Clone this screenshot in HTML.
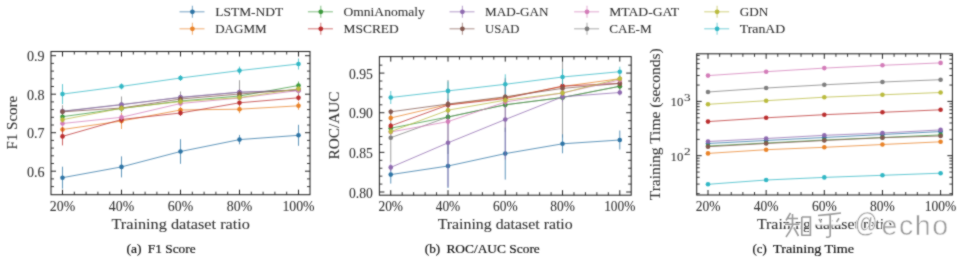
<!DOCTYPE html>
<html><head><meta charset="utf-8"><style>
html,body{margin:0;padding:0;background:#fff;}
body{width:970px;height:264px;overflow:hidden;}
svg{display:block;font-family:'Liberation Serif',serif;}
#w{width:970px;height:264px;filter:saturate(0.8);}
</style></head><body><div id="w">
<svg width="970" height="264" viewBox="0 0 970 264">
<defs><filter id="bl" color-interpolation-filters="sRGB" x="0" y="0" width="970" height="264" filterUnits="userSpaceOnUse"><feConvolveMatrix order="3" kernelMatrix="1 2 1 2 12 2 1 2 1" divisor="24" edgeMode="duplicate"/></filter></defs>
<g filter="url(#bl)"><rect width="970" height="264" fill="#fff"/>
<line x1="179.5" y1="11.8" x2="204.5" y2="11.8" stroke="#1f77b4" stroke-width="1.1" opacity="0.6"/>
<line x1="192.4" y1="5.800000000000001" x2="192.4" y2="17.8" stroke="#1f77b4" stroke-width="1.1" opacity="0.6"/>
<circle cx="192.4" cy="11.8" r="2.4" fill="#1f77b4"/>
<text x="215.20" y="15.90" font-size="12.40" text-anchor="start" fill="#333" stroke="#333" stroke-width="0.08" textLength="68.10" lengthAdjust="spacingAndGlyphs" >LSTM-NDT</text>
<line x1="179.5" y1="28.8" x2="204.5" y2="28.8" stroke="#ff7f0e" stroke-width="1.1" opacity="0.6"/>
<line x1="192.4" y1="22.8" x2="192.4" y2="34.8" stroke="#ff7f0e" stroke-width="1.1" opacity="0.6"/>
<circle cx="192.4" cy="28.8" r="2.4" fill="#ff7f0e"/>
<text x="215.20" y="32.90" font-size="12.40" text-anchor="start" fill="#333" stroke="#333" stroke-width="0.08" textLength="51.50" lengthAdjust="spacingAndGlyphs" >DAGMM</text>
<line x1="307.9" y1="11.8" x2="332.9" y2="11.8" stroke="#2ca02c" stroke-width="1.1" opacity="0.6"/>
<line x1="320.79999999999995" y1="5.800000000000001" x2="320.79999999999995" y2="17.8" stroke="#2ca02c" stroke-width="1.1" opacity="0.6"/>
<circle cx="320.79999999999995" cy="11.8" r="2.4" fill="#2ca02c"/>
<text x="343.50" y="15.90" font-size="12.40" text-anchor="start" fill="#333" stroke="#333" stroke-width="0.08" textLength="81.30" lengthAdjust="spacingAndGlyphs" >OmniAnomaly</text>
<line x1="307.9" y1="28.8" x2="332.9" y2="28.8" stroke="#d62728" stroke-width="1.1" opacity="0.6"/>
<line x1="320.79999999999995" y1="22.8" x2="320.79999999999995" y2="34.8" stroke="#d62728" stroke-width="1.1" opacity="0.6"/>
<circle cx="320.79999999999995" cy="28.8" r="2.4" fill="#d62728"/>
<text x="343.50" y="32.90" font-size="12.40" text-anchor="start" fill="#333" stroke="#333" stroke-width="0.08" textLength="55.30" lengthAdjust="spacingAndGlyphs" >MSCRED</text>
<line x1="449.5" y1="11.8" x2="474.5" y2="11.8" stroke="#9467bd" stroke-width="1.1" opacity="0.6"/>
<line x1="462.4" y1="5.800000000000001" x2="462.4" y2="17.8" stroke="#9467bd" stroke-width="1.1" opacity="0.6"/>
<circle cx="462.4" cy="11.8" r="2.4" fill="#9467bd"/>
<text x="485.00" y="15.90" font-size="12.40" text-anchor="start" fill="#333" stroke="#333" stroke-width="0.08" textLength="63.60" lengthAdjust="spacingAndGlyphs" >MAD-GAN</text>
<line x1="449.5" y1="28.8" x2="474.5" y2="28.8" stroke="#8c564b" stroke-width="1.1" opacity="0.6"/>
<line x1="462.4" y1="22.8" x2="462.4" y2="34.8" stroke="#8c564b" stroke-width="1.1" opacity="0.6"/>
<circle cx="462.4" cy="28.8" r="2.4" fill="#8c564b"/>
<text x="485.00" y="32.90" font-size="12.40" text-anchor="start" fill="#333" stroke="#333" stroke-width="0.08" textLength="34.50" lengthAdjust="spacingAndGlyphs" >USAD</text>
<line x1="574.1" y1="11.8" x2="599.1" y2="11.8" stroke="#e377c2" stroke-width="1.1" opacity="0.6"/>
<line x1="587.0" y1="5.800000000000001" x2="587.0" y2="17.8" stroke="#e377c2" stroke-width="1.1" opacity="0.6"/>
<circle cx="587.0" cy="11.8" r="2.4" fill="#e377c2"/>
<text x="609.20" y="15.90" font-size="12.40" text-anchor="start" fill="#333" stroke="#333" stroke-width="0.08" textLength="70.00" lengthAdjust="spacingAndGlyphs" >MTAD-GAT</text>
<line x1="574.1" y1="28.8" x2="599.1" y2="28.8" stroke="#7f7f7f" stroke-width="1.1" opacity="0.6"/>
<line x1="587.0" y1="22.8" x2="587.0" y2="34.8" stroke="#7f7f7f" stroke-width="1.1" opacity="0.6"/>
<circle cx="587.0" cy="28.8" r="2.4" fill="#7f7f7f"/>
<text x="609.20" y="32.90" font-size="12.40" text-anchor="start" fill="#333" stroke="#333" stroke-width="0.08" textLength="42.50" lengthAdjust="spacingAndGlyphs" >CAE-M</text>
<line x1="704.2" y1="11.8" x2="729.2" y2="11.8" stroke="#bcbd22" stroke-width="1.1" opacity="0.6"/>
<line x1="717.1" y1="5.800000000000001" x2="717.1" y2="17.8" stroke="#bcbd22" stroke-width="1.1" opacity="0.6"/>
<circle cx="717.1" cy="11.8" r="2.4" fill="#bcbd22"/>
<text x="739.80" y="15.90" font-size="12.40" text-anchor="start" fill="#333" stroke="#333" stroke-width="0.08" textLength="28.50" lengthAdjust="spacingAndGlyphs" >GDN</text>
<line x1="704.2" y1="28.8" x2="729.2" y2="28.8" stroke="#17becf" stroke-width="1.1" opacity="0.6"/>
<line x1="717.1" y1="22.8" x2="717.1" y2="34.8" stroke="#17becf" stroke-width="1.1" opacity="0.6"/>
<circle cx="717.1" cy="28.8" r="2.4" fill="#17becf"/>
<text x="739.80" y="32.90" font-size="12.40" text-anchor="start" fill="#333" stroke="#333" stroke-width="0.08" textLength="45.50" lengthAdjust="spacingAndGlyphs" >TranAD</text>
<g>
<polyline points="62.50,111.20 121.50,104.50 180.50,97.50 239.50,92.20 298.50,90.50" fill="none" stroke="#7f7f7f" stroke-width="0.95" opacity="0.8"/>
<line x1="62.50" y1="105.20" x2="62.50" y2="117.20" stroke="#7f7f7f" stroke-width="0.95" opacity="0.8"/>
<line x1="121.50" y1="96.50" x2="121.50" y2="112.50" stroke="#7f7f7f" stroke-width="0.95" opacity="0.8"/>
<line x1="180.50" y1="91.50" x2="180.50" y2="103.50" stroke="#7f7f7f" stroke-width="0.95" opacity="0.8"/>
<line x1="239.50" y1="80.20" x2="239.50" y2="104.20" stroke="#7f7f7f" stroke-width="0.95" opacity="0.8"/>
<line x1="298.50" y1="85.50" x2="298.50" y2="95.50" stroke="#7f7f7f" stroke-width="0.95" opacity="0.8"/>
<circle cx="62.50" cy="111.20" r="2.3" fill="#7f7f7f"/>
<circle cx="121.50" cy="104.50" r="2.3" fill="#7f7f7f"/>
<circle cx="180.50" cy="97.50" r="2.3" fill="#7f7f7f"/>
<circle cx="239.50" cy="92.20" r="2.3" fill="#7f7f7f"/>
<circle cx="298.50" cy="90.50" r="2.3" fill="#7f7f7f"/>
<polyline points="62.50,177.70 121.50,166.90 180.50,151.50 239.50,139.60 298.50,135.30" fill="none" stroke="#1f77b4" stroke-width="0.95" opacity="0.8"/>
<line x1="62.50" y1="166.70" x2="62.50" y2="188.70" stroke="#1f77b4" stroke-width="0.95" opacity="0.8"/>
<line x1="121.50" y1="156.40" x2="121.50" y2="177.40" stroke="#1f77b4" stroke-width="0.95" opacity="0.8"/>
<line x1="180.50" y1="139.20" x2="180.50" y2="163.80" stroke="#1f77b4" stroke-width="0.95" opacity="0.8"/>
<line x1="239.50" y1="134.90" x2="239.50" y2="144.30" stroke="#1f77b4" stroke-width="0.95" opacity="0.8"/>
<line x1="298.50" y1="124.80" x2="298.50" y2="145.80" stroke="#1f77b4" stroke-width="0.95" opacity="0.8"/>
<circle cx="62.50" cy="177.70" r="2.3" fill="#1f77b4"/>
<circle cx="121.50" cy="166.90" r="2.3" fill="#1f77b4"/>
<circle cx="180.50" cy="151.50" r="2.3" fill="#1f77b4"/>
<circle cx="239.50" cy="139.60" r="2.3" fill="#1f77b4"/>
<circle cx="298.50" cy="135.30" r="2.3" fill="#1f77b4"/>
<polyline points="62.50,129.50 121.50,121.00 180.50,110.00 239.50,109.20 298.50,105.80" fill="none" stroke="#ff7f0e" stroke-width="0.95" opacity="0.8"/>
<line x1="62.50" y1="126.50" x2="62.50" y2="132.50" stroke="#ff7f0e" stroke-width="0.95" opacity="0.8"/>
<line x1="121.50" y1="113.00" x2="121.50" y2="129.00" stroke="#ff7f0e" stroke-width="0.95" opacity="0.8"/>
<line x1="180.50" y1="107.00" x2="180.50" y2="113.00" stroke="#ff7f0e" stroke-width="0.95" opacity="0.8"/>
<line x1="239.50" y1="105.20" x2="239.50" y2="113.20" stroke="#ff7f0e" stroke-width="0.95" opacity="0.8"/>
<line x1="298.50" y1="101.80" x2="298.50" y2="109.80" stroke="#ff7f0e" stroke-width="0.95" opacity="0.8"/>
<circle cx="62.50" cy="129.50" r="2.3" fill="#ff7f0e"/>
<circle cx="121.50" cy="121.00" r="2.3" fill="#ff7f0e"/>
<circle cx="180.50" cy="110.00" r="2.3" fill="#ff7f0e"/>
<circle cx="239.50" cy="109.20" r="2.3" fill="#ff7f0e"/>
<circle cx="298.50" cy="105.80" r="2.3" fill="#ff7f0e"/>
<polyline points="62.50,116.70 121.50,108.50 180.50,101.00 239.50,96.00 298.50,85.50" fill="none" stroke="#2ca02c" stroke-width="0.95" opacity="0.8"/>
<line x1="62.50" y1="113.70" x2="62.50" y2="119.70" stroke="#2ca02c" stroke-width="0.95" opacity="0.8"/>
<line x1="121.50" y1="105.50" x2="121.50" y2="111.50" stroke="#2ca02c" stroke-width="0.95" opacity="0.8"/>
<line x1="180.50" y1="98.00" x2="180.50" y2="104.00" stroke="#2ca02c" stroke-width="0.95" opacity="0.8"/>
<line x1="239.50" y1="93.00" x2="239.50" y2="99.00" stroke="#2ca02c" stroke-width="0.95" opacity="0.8"/>
<line x1="298.50" y1="81.50" x2="298.50" y2="89.50" stroke="#2ca02c" stroke-width="0.95" opacity="0.8"/>
<circle cx="62.50" cy="116.70" r="2.3" fill="#2ca02c"/>
<circle cx="121.50" cy="108.50" r="2.3" fill="#2ca02c"/>
<circle cx="180.50" cy="101.00" r="2.3" fill="#2ca02c"/>
<circle cx="239.50" cy="96.00" r="2.3" fill="#2ca02c"/>
<circle cx="298.50" cy="85.50" r="2.3" fill="#2ca02c"/>
<polyline points="62.50,136.40 121.50,119.50 180.50,113.00 239.50,102.80 298.50,97.80" fill="none" stroke="#d62728" stroke-width="0.95" opacity="0.8"/>
<line x1="62.50" y1="127.40" x2="62.50" y2="145.40" stroke="#d62728" stroke-width="0.95" opacity="0.8"/>
<line x1="121.50" y1="115.50" x2="121.50" y2="123.50" stroke="#d62728" stroke-width="0.95" opacity="0.8"/>
<line x1="180.50" y1="110.00" x2="180.50" y2="116.00" stroke="#d62728" stroke-width="0.95" opacity="0.8"/>
<line x1="239.50" y1="99.80" x2="239.50" y2="105.80" stroke="#d62728" stroke-width="0.95" opacity="0.8"/>
<line x1="298.50" y1="94.80" x2="298.50" y2="100.80" stroke="#d62728" stroke-width="0.95" opacity="0.8"/>
<circle cx="62.50" cy="136.40" r="2.3" fill="#d62728"/>
<circle cx="121.50" cy="119.50" r="2.3" fill="#d62728"/>
<circle cx="180.50" cy="113.00" r="2.3" fill="#d62728"/>
<circle cx="239.50" cy="102.80" r="2.3" fill="#d62728"/>
<circle cx="298.50" cy="97.80" r="2.3" fill="#d62728"/>
<polyline points="62.50,111.40 121.50,104.80 180.50,97.30 239.50,92.20 298.50,90.00" fill="none" stroke="#9467bd" stroke-width="0.95" opacity="0.8"/>
<line x1="62.50" y1="108.40" x2="62.50" y2="114.40" stroke="#9467bd" stroke-width="0.95" opacity="0.8"/>
<line x1="121.50" y1="101.80" x2="121.50" y2="107.80" stroke="#9467bd" stroke-width="0.95" opacity="0.8"/>
<line x1="180.50" y1="94.30" x2="180.50" y2="100.30" stroke="#9467bd" stroke-width="0.95" opacity="0.8"/>
<line x1="239.50" y1="89.20" x2="239.50" y2="95.20" stroke="#9467bd" stroke-width="0.95" opacity="0.8"/>
<line x1="298.50" y1="87.00" x2="298.50" y2="93.00" stroke="#9467bd" stroke-width="0.95" opacity="0.8"/>
<circle cx="62.50" cy="111.40" r="2.3" fill="#9467bd"/>
<circle cx="121.50" cy="104.80" r="2.3" fill="#9467bd"/>
<circle cx="180.50" cy="97.30" r="2.3" fill="#9467bd"/>
<circle cx="239.50" cy="92.20" r="2.3" fill="#9467bd"/>
<circle cx="298.50" cy="90.00" r="2.3" fill="#9467bd"/>
<polyline points="62.50,111.80 121.50,108.00 180.50,99.00 239.50,94.00 298.50,89.50" fill="none" stroke="#8c564b" stroke-width="0.95" opacity="0.8"/>
<line x1="62.50" y1="108.80" x2="62.50" y2="114.80" stroke="#8c564b" stroke-width="0.95" opacity="0.8"/>
<line x1="121.50" y1="105.00" x2="121.50" y2="111.00" stroke="#8c564b" stroke-width="0.95" opacity="0.8"/>
<line x1="180.50" y1="96.00" x2="180.50" y2="102.00" stroke="#8c564b" stroke-width="0.95" opacity="0.8"/>
<line x1="239.50" y1="91.00" x2="239.50" y2="97.00" stroke="#8c564b" stroke-width="0.95" opacity="0.8"/>
<line x1="298.50" y1="86.50" x2="298.50" y2="92.50" stroke="#8c564b" stroke-width="0.95" opacity="0.8"/>
<circle cx="62.50" cy="111.80" r="2.3" fill="#8c564b"/>
<circle cx="121.50" cy="108.00" r="2.3" fill="#8c564b"/>
<circle cx="180.50" cy="99.00" r="2.3" fill="#8c564b"/>
<circle cx="239.50" cy="94.00" r="2.3" fill="#8c564b"/>
<circle cx="298.50" cy="89.50" r="2.3" fill="#8c564b"/>
<polyline points="62.50,123.50 121.50,117.30 180.50,103.50 239.50,98.00 298.50,90.50" fill="none" stroke="#e377c2" stroke-width="0.95" opacity="0.8"/>
<line x1="62.50" y1="120.50" x2="62.50" y2="126.50" stroke="#e377c2" stroke-width="0.95" opacity="0.8"/>
<line x1="121.50" y1="114.30" x2="121.50" y2="120.30" stroke="#e377c2" stroke-width="0.95" opacity="0.8"/>
<line x1="180.50" y1="100.50" x2="180.50" y2="106.50" stroke="#e377c2" stroke-width="0.95" opacity="0.8"/>
<line x1="239.50" y1="95.00" x2="239.50" y2="101.00" stroke="#e377c2" stroke-width="0.95" opacity="0.8"/>
<line x1="298.50" y1="87.50" x2="298.50" y2="93.50" stroke="#e377c2" stroke-width="0.95" opacity="0.8"/>
<circle cx="62.50" cy="123.50" r="2.3" fill="#e377c2"/>
<circle cx="121.50" cy="117.30" r="2.3" fill="#e377c2"/>
<circle cx="180.50" cy="103.50" r="2.3" fill="#e377c2"/>
<circle cx="239.50" cy="98.00" r="2.3" fill="#e377c2"/>
<circle cx="298.50" cy="90.50" r="2.3" fill="#e377c2"/>
<polyline points="62.50,119.70 121.50,108.20 180.50,101.60 239.50,97.60 298.50,88.80" fill="none" stroke="#bcbd22" stroke-width="0.95" opacity="0.8"/>
<line x1="62.50" y1="116.70" x2="62.50" y2="122.70" stroke="#bcbd22" stroke-width="0.95" opacity="0.8"/>
<line x1="121.50" y1="105.20" x2="121.50" y2="111.20" stroke="#bcbd22" stroke-width="0.95" opacity="0.8"/>
<line x1="180.50" y1="98.60" x2="180.50" y2="104.60" stroke="#bcbd22" stroke-width="0.95" opacity="0.8"/>
<line x1="239.50" y1="94.60" x2="239.50" y2="100.60" stroke="#bcbd22" stroke-width="0.95" opacity="0.8"/>
<line x1="298.50" y1="85.80" x2="298.50" y2="91.80" stroke="#bcbd22" stroke-width="0.95" opacity="0.8"/>
<circle cx="62.50" cy="119.70" r="2.3" fill="#bcbd22"/>
<circle cx="121.50" cy="108.20" r="2.3" fill="#bcbd22"/>
<circle cx="180.50" cy="101.60" r="2.3" fill="#bcbd22"/>
<circle cx="239.50" cy="97.60" r="2.3" fill="#bcbd22"/>
<circle cx="298.50" cy="88.80" r="2.3" fill="#bcbd22"/>
<polyline points="62.50,94.10 121.50,86.40 180.50,78.00 239.50,70.60 298.50,64.00" fill="none" stroke="#17becf" stroke-width="0.95" opacity="0.8"/>
<line x1="62.50" y1="84.10" x2="62.50" y2="104.10" stroke="#17becf" stroke-width="0.95" opacity="0.8"/>
<line x1="121.50" y1="83.40" x2="121.50" y2="89.40" stroke="#17becf" stroke-width="0.95" opacity="0.8"/>
<line x1="180.50" y1="75.00" x2="180.50" y2="81.00" stroke="#17becf" stroke-width="0.95" opacity="0.8"/>
<line x1="239.50" y1="66.60" x2="239.50" y2="74.60" stroke="#17becf" stroke-width="0.95" opacity="0.8"/>
<line x1="298.50" y1="58.50" x2="298.50" y2="69.50" stroke="#17becf" stroke-width="0.95" opacity="0.8"/>
<circle cx="62.50" cy="94.10" r="2.3" fill="#17becf"/>
<circle cx="121.50" cy="86.40" r="2.3" fill="#17becf"/>
<circle cx="180.50" cy="78.00" r="2.3" fill="#17becf"/>
<circle cx="239.50" cy="70.60" r="2.3" fill="#17becf"/>
<circle cx="298.50" cy="64.00" r="2.3" fill="#17becf"/>
</g>
<rect x="51" y="51.5" width="259" height="143.2" fill="none" stroke="#222" stroke-width="1.05"/>
<line x1="62.50" y1="194.7" x2="62.50" y2="189.7" stroke="#222" stroke-width="1"/>
<line x1="62.50" y1="51.5" x2="62.50" y2="56.5" stroke="#222" stroke-width="1"/>
<line x1="121.50" y1="194.7" x2="121.50" y2="189.7" stroke="#222" stroke-width="1"/>
<line x1="121.50" y1="51.5" x2="121.50" y2="56.5" stroke="#222" stroke-width="1"/>
<line x1="180.50" y1="194.7" x2="180.50" y2="189.7" stroke="#222" stroke-width="1"/>
<line x1="180.50" y1="51.5" x2="180.50" y2="56.5" stroke="#222" stroke-width="1"/>
<line x1="239.50" y1="194.7" x2="239.50" y2="189.7" stroke="#222" stroke-width="1"/>
<line x1="239.50" y1="51.5" x2="239.50" y2="56.5" stroke="#222" stroke-width="1"/>
<line x1="298.50" y1="194.7" x2="298.50" y2="189.7" stroke="#222" stroke-width="1"/>
<line x1="298.50" y1="51.5" x2="298.50" y2="56.5" stroke="#222" stroke-width="1"/>
<line x1="74.30" y1="194.7" x2="74.30" y2="191.7" stroke="#222" stroke-width="0.9"/>
<line x1="74.30" y1="51.5" x2="74.30" y2="54.5" stroke="#222" stroke-width="0.9"/>
<line x1="86.10" y1="194.7" x2="86.10" y2="191.7" stroke="#222" stroke-width="0.9"/>
<line x1="86.10" y1="51.5" x2="86.10" y2="54.5" stroke="#222" stroke-width="0.9"/>
<line x1="97.90" y1="194.7" x2="97.90" y2="191.7" stroke="#222" stroke-width="0.9"/>
<line x1="97.90" y1="51.5" x2="97.90" y2="54.5" stroke="#222" stroke-width="0.9"/>
<line x1="109.70" y1="194.7" x2="109.70" y2="191.7" stroke="#222" stroke-width="0.9"/>
<line x1="109.70" y1="51.5" x2="109.70" y2="54.5" stroke="#222" stroke-width="0.9"/>
<line x1="133.30" y1="194.7" x2="133.30" y2="191.7" stroke="#222" stroke-width="0.9"/>
<line x1="133.30" y1="51.5" x2="133.30" y2="54.5" stroke="#222" stroke-width="0.9"/>
<line x1="145.10" y1="194.7" x2="145.10" y2="191.7" stroke="#222" stroke-width="0.9"/>
<line x1="145.10" y1="51.5" x2="145.10" y2="54.5" stroke="#222" stroke-width="0.9"/>
<line x1="156.90" y1="194.7" x2="156.90" y2="191.7" stroke="#222" stroke-width="0.9"/>
<line x1="156.90" y1="51.5" x2="156.90" y2="54.5" stroke="#222" stroke-width="0.9"/>
<line x1="168.70" y1="194.7" x2="168.70" y2="191.7" stroke="#222" stroke-width="0.9"/>
<line x1="168.70" y1="51.5" x2="168.70" y2="54.5" stroke="#222" stroke-width="0.9"/>
<line x1="192.30" y1="194.7" x2="192.30" y2="191.7" stroke="#222" stroke-width="0.9"/>
<line x1="192.30" y1="51.5" x2="192.30" y2="54.5" stroke="#222" stroke-width="0.9"/>
<line x1="204.10" y1="194.7" x2="204.10" y2="191.7" stroke="#222" stroke-width="0.9"/>
<line x1="204.10" y1="51.5" x2="204.10" y2="54.5" stroke="#222" stroke-width="0.9"/>
<line x1="215.90" y1="194.7" x2="215.90" y2="191.7" stroke="#222" stroke-width="0.9"/>
<line x1="215.90" y1="51.5" x2="215.90" y2="54.5" stroke="#222" stroke-width="0.9"/>
<line x1="227.70" y1="194.7" x2="227.70" y2="191.7" stroke="#222" stroke-width="0.9"/>
<line x1="227.70" y1="51.5" x2="227.70" y2="54.5" stroke="#222" stroke-width="0.9"/>
<line x1="251.30" y1="194.7" x2="251.30" y2="191.7" stroke="#222" stroke-width="0.9"/>
<line x1="251.30" y1="51.5" x2="251.30" y2="54.5" stroke="#222" stroke-width="0.9"/>
<line x1="263.10" y1="194.7" x2="263.10" y2="191.7" stroke="#222" stroke-width="0.9"/>
<line x1="263.10" y1="51.5" x2="263.10" y2="54.5" stroke="#222" stroke-width="0.9"/>
<line x1="274.90" y1="194.7" x2="274.90" y2="191.7" stroke="#222" stroke-width="0.9"/>
<line x1="274.90" y1="51.5" x2="274.90" y2="54.5" stroke="#222" stroke-width="0.9"/>
<line x1="286.70" y1="194.7" x2="286.70" y2="191.7" stroke="#222" stroke-width="0.9"/>
<line x1="286.70" y1="51.5" x2="286.70" y2="54.5" stroke="#222" stroke-width="0.9"/>
<line x1="51" y1="171.20" x2="56" y2="171.20" stroke="#222" stroke-width="1"/>
<line x1="310" y1="171.20" x2="305" y2="171.20" stroke="#222" stroke-width="1"/>
<line x1="51" y1="132.70" x2="56" y2="132.70" stroke="#222" stroke-width="1"/>
<line x1="310" y1="132.70" x2="305" y2="132.70" stroke="#222" stroke-width="1"/>
<line x1="51" y1="94.20" x2="56" y2="94.20" stroke="#222" stroke-width="1"/>
<line x1="310" y1="94.20" x2="305" y2="94.20" stroke="#222" stroke-width="1"/>
<line x1="51" y1="55.70" x2="56" y2="55.70" stroke="#222" stroke-width="1"/>
<line x1="310" y1="55.70" x2="305" y2="55.70" stroke="#222" stroke-width="1"/>
<line x1="51" y1="186.60" x2="54" y2="186.60" stroke="#222" stroke-width="0.9"/>
<line x1="310" y1="186.60" x2="307" y2="186.60" stroke="#222" stroke-width="0.9"/>
<line x1="51" y1="178.90" x2="54" y2="178.90" stroke="#222" stroke-width="0.9"/>
<line x1="310" y1="178.90" x2="307" y2="178.90" stroke="#222" stroke-width="0.9"/>
<line x1="51" y1="163.50" x2="54" y2="163.50" stroke="#222" stroke-width="0.9"/>
<line x1="310" y1="163.50" x2="307" y2="163.50" stroke="#222" stroke-width="0.9"/>
<line x1="51" y1="155.80" x2="54" y2="155.80" stroke="#222" stroke-width="0.9"/>
<line x1="310" y1="155.80" x2="307" y2="155.80" stroke="#222" stroke-width="0.9"/>
<line x1="51" y1="148.10" x2="54" y2="148.10" stroke="#222" stroke-width="0.9"/>
<line x1="310" y1="148.10" x2="307" y2="148.10" stroke="#222" stroke-width="0.9"/>
<line x1="51" y1="140.40" x2="54" y2="140.40" stroke="#222" stroke-width="0.9"/>
<line x1="310" y1="140.40" x2="307" y2="140.40" stroke="#222" stroke-width="0.9"/>
<line x1="51" y1="125.00" x2="54" y2="125.00" stroke="#222" stroke-width="0.9"/>
<line x1="310" y1="125.00" x2="307" y2="125.00" stroke="#222" stroke-width="0.9"/>
<line x1="51" y1="117.30" x2="54" y2="117.30" stroke="#222" stroke-width="0.9"/>
<line x1="310" y1="117.30" x2="307" y2="117.30" stroke="#222" stroke-width="0.9"/>
<line x1="51" y1="109.60" x2="54" y2="109.60" stroke="#222" stroke-width="0.9"/>
<line x1="310" y1="109.60" x2="307" y2="109.60" stroke="#222" stroke-width="0.9"/>
<line x1="51" y1="101.90" x2="54" y2="101.90" stroke="#222" stroke-width="0.9"/>
<line x1="310" y1="101.90" x2="307" y2="101.90" stroke="#222" stroke-width="0.9"/>
<line x1="51" y1="86.50" x2="54" y2="86.50" stroke="#222" stroke-width="0.9"/>
<line x1="310" y1="86.50" x2="307" y2="86.50" stroke="#222" stroke-width="0.9"/>
<line x1="51" y1="78.80" x2="54" y2="78.80" stroke="#222" stroke-width="0.9"/>
<line x1="310" y1="78.80" x2="307" y2="78.80" stroke="#222" stroke-width="0.9"/>
<line x1="51" y1="71.10" x2="54" y2="71.10" stroke="#222" stroke-width="0.9"/>
<line x1="310" y1="71.10" x2="307" y2="71.10" stroke="#222" stroke-width="0.9"/>
<line x1="51" y1="63.40" x2="54" y2="63.40" stroke="#222" stroke-width="0.9"/>
<line x1="310" y1="63.40" x2="307" y2="63.40" stroke="#222" stroke-width="0.9"/>
<text x="44.60" y="176.70" font-size="14.77" text-anchor="end" fill="#333" stroke="#333" stroke-width="0.08" textLength="17.64" lengthAdjust="spacingAndGlyphs" >0.6</text>
<text x="44.60" y="138.20" font-size="14.77" text-anchor="end" fill="#333" stroke="#333" stroke-width="0.08" textLength="17.64" lengthAdjust="spacingAndGlyphs" >0.7</text>
<text x="44.60" y="99.70" font-size="14.77" text-anchor="end" fill="#333" stroke="#333" stroke-width="0.08" textLength="17.64" lengthAdjust="spacingAndGlyphs" >0.8</text>
<text x="44.60" y="61.20" font-size="14.77" text-anchor="end" fill="#333" stroke="#333" stroke-width="0.08" textLength="17.64" lengthAdjust="spacingAndGlyphs" >0.9</text>
<text x="62.50" y="210.80" font-size="14.77" text-anchor="middle" fill="#333" stroke="#333" stroke-width="0.08" textLength="25.30" lengthAdjust="spacingAndGlyphs" >20%</text>
<text x="121.50" y="210.80" font-size="14.77" text-anchor="middle" fill="#333" stroke="#333" stroke-width="0.08" textLength="25.30" lengthAdjust="spacingAndGlyphs" >40%</text>
<text x="180.50" y="210.80" font-size="14.77" text-anchor="middle" fill="#333" stroke="#333" stroke-width="0.08" textLength="25.30" lengthAdjust="spacingAndGlyphs" >60%</text>
<text x="239.50" y="210.80" font-size="14.77" text-anchor="middle" fill="#333" stroke="#333" stroke-width="0.08" textLength="25.30" lengthAdjust="spacingAndGlyphs" >80%</text>
<text x="298.50" y="210.80" font-size="14.77" text-anchor="middle" fill="#333" stroke="#333" stroke-width="0.08" textLength="32.20" lengthAdjust="spacingAndGlyphs" >100%</text>
<text x="180.70" y="228.90" font-size="14.30" text-anchor="middle" fill="#333" stroke="#333" stroke-width="0.08" textLength="138.60" lengthAdjust="spacingAndGlyphs" >Training dataset ratio</text>
<g transform="translate(17,122.65) rotate(-90)">
<text x="0.00" y="0.00" font-size="14.30" text-anchor="middle" fill="#333" stroke="#333" stroke-width="0.08" textLength="53.50" lengthAdjust="spacingAndGlyphs" >F1 Score</text>
</g>
<polyline points="390.75,137.70 448.01,117.00 505.27,104.80 562.53,97.50 619.79,86.25" fill="none" stroke="#7f7f7f" stroke-width="0.95" opacity="0.8"/>
<line x1="390.75" y1="112.70" x2="390.75" y2="162.70" stroke="#7f7f7f" stroke-width="0.95" opacity="0.8"/>
<line x1="448.01" y1="80.00" x2="448.01" y2="154.00" stroke="#7f7f7f" stroke-width="0.95" opacity="0.8"/>
<line x1="505.27" y1="77.80" x2="505.27" y2="131.80" stroke="#7f7f7f" stroke-width="0.95" opacity="0.8"/>
<line x1="562.53" y1="57.50" x2="562.53" y2="137.50" stroke="#7f7f7f" stroke-width="0.95" opacity="0.8"/>
<line x1="619.79" y1="80.25" x2="619.79" y2="92.25" stroke="#7f7f7f" stroke-width="0.95" opacity="0.8"/>
<circle cx="390.75" cy="137.70" r="2.3" fill="#7f7f7f"/>
<circle cx="448.01" cy="117.00" r="2.3" fill="#7f7f7f"/>
<circle cx="505.27" cy="104.80" r="2.3" fill="#7f7f7f"/>
<circle cx="562.53" cy="97.50" r="2.3" fill="#7f7f7f"/>
<circle cx="619.79" cy="86.25" r="2.3" fill="#7f7f7f"/>
<polyline points="390.75,174.60 448.01,166.00 505.27,153.60 562.53,143.80 619.79,140.00" fill="none" stroke="#1f77b4" stroke-width="0.95" opacity="0.8"/>
<line x1="390.75" y1="165.60" x2="390.75" y2="183.60" stroke="#1f77b4" stroke-width="0.95" opacity="0.8"/>
<line x1="448.01" y1="144.00" x2="448.01" y2="188.00" stroke="#1f77b4" stroke-width="0.95" opacity="0.8"/>
<line x1="505.27" y1="127.60" x2="505.27" y2="179.60" stroke="#1f77b4" stroke-width="0.95" opacity="0.8"/>
<line x1="562.53" y1="134.30" x2="562.53" y2="153.30" stroke="#1f77b4" stroke-width="0.95" opacity="0.8"/>
<line x1="619.79" y1="130.50" x2="619.79" y2="149.50" stroke="#1f77b4" stroke-width="0.95" opacity="0.8"/>
<circle cx="390.75" cy="174.60" r="2.3" fill="#1f77b4"/>
<circle cx="448.01" cy="166.00" r="2.3" fill="#1f77b4"/>
<circle cx="505.27" cy="153.60" r="2.3" fill="#1f77b4"/>
<circle cx="562.53" cy="143.80" r="2.3" fill="#1f77b4"/>
<circle cx="619.79" cy="140.00" r="2.3" fill="#1f77b4"/>
<polyline points="390.75,118.00 448.01,104.50 505.27,97.50 562.53,86.50 619.79,78.70" fill="none" stroke="#ff7f0e" stroke-width="0.95" opacity="0.8"/>
<line x1="390.75" y1="115.00" x2="390.75" y2="121.00" stroke="#ff7f0e" stroke-width="0.95" opacity="0.8"/>
<line x1="448.01" y1="101.50" x2="448.01" y2="107.50" stroke="#ff7f0e" stroke-width="0.95" opacity="0.8"/>
<line x1="505.27" y1="94.50" x2="505.27" y2="100.50" stroke="#ff7f0e" stroke-width="0.95" opacity="0.8"/>
<line x1="562.53" y1="83.50" x2="562.53" y2="89.50" stroke="#ff7f0e" stroke-width="0.95" opacity="0.8"/>
<line x1="619.79" y1="75.70" x2="619.79" y2="81.70" stroke="#ff7f0e" stroke-width="0.95" opacity="0.8"/>
<circle cx="390.75" cy="118.00" r="2.3" fill="#ff7f0e"/>
<circle cx="448.01" cy="104.50" r="2.3" fill="#ff7f0e"/>
<circle cx="505.27" cy="97.50" r="2.3" fill="#ff7f0e"/>
<circle cx="562.53" cy="86.50" r="2.3" fill="#ff7f0e"/>
<circle cx="619.79" cy="78.70" r="2.3" fill="#ff7f0e"/>
<polyline points="390.75,128.20 448.01,117.00 505.27,104.80 562.53,97.50 619.79,86.25" fill="none" stroke="#2ca02c" stroke-width="0.95" opacity="0.8"/>
<line x1="390.75" y1="125.20" x2="390.75" y2="131.20" stroke="#2ca02c" stroke-width="0.95" opacity="0.8"/>
<line x1="448.01" y1="114.00" x2="448.01" y2="120.00" stroke="#2ca02c" stroke-width="0.95" opacity="0.8"/>
<line x1="505.27" y1="101.80" x2="505.27" y2="107.80" stroke="#2ca02c" stroke-width="0.95" opacity="0.8"/>
<line x1="562.53" y1="94.50" x2="562.53" y2="100.50" stroke="#2ca02c" stroke-width="0.95" opacity="0.8"/>
<line x1="619.79" y1="83.25" x2="619.79" y2="89.25" stroke="#2ca02c" stroke-width="0.95" opacity="0.8"/>
<circle cx="390.75" cy="128.20" r="2.3" fill="#2ca02c"/>
<circle cx="448.01" cy="117.00" r="2.3" fill="#2ca02c"/>
<circle cx="505.27" cy="104.80" r="2.3" fill="#2ca02c"/>
<circle cx="562.53" cy="97.50" r="2.3" fill="#2ca02c"/>
<circle cx="619.79" cy="86.25" r="2.3" fill="#2ca02c"/>
<polyline points="390.75,125.90 448.01,105.00 505.27,98.50 562.53,86.10 619.79,83.40" fill="none" stroke="#d62728" stroke-width="0.95" opacity="0.8"/>
<line x1="390.75" y1="122.90" x2="390.75" y2="128.90" stroke="#d62728" stroke-width="0.95" opacity="0.8"/>
<line x1="448.01" y1="102.00" x2="448.01" y2="108.00" stroke="#d62728" stroke-width="0.95" opacity="0.8"/>
<line x1="505.27" y1="95.50" x2="505.27" y2="101.50" stroke="#d62728" stroke-width="0.95" opacity="0.8"/>
<line x1="562.53" y1="83.10" x2="562.53" y2="89.10" stroke="#d62728" stroke-width="0.95" opacity="0.8"/>
<line x1="619.79" y1="80.40" x2="619.79" y2="86.40" stroke="#d62728" stroke-width="0.95" opacity="0.8"/>
<circle cx="390.75" cy="125.90" r="2.3" fill="#d62728"/>
<circle cx="448.01" cy="105.00" r="2.3" fill="#d62728"/>
<circle cx="505.27" cy="98.50" r="2.3" fill="#d62728"/>
<circle cx="562.53" cy="86.10" r="2.3" fill="#d62728"/>
<circle cx="619.79" cy="83.40" r="2.3" fill="#d62728"/>
<polyline points="390.75,167.40 448.01,142.80 505.27,119.50 562.53,96.80 619.79,92.50" fill="none" stroke="#9467bd" stroke-width="0.95" opacity="0.8"/>
<line x1="390.75" y1="163.40" x2="390.75" y2="171.40" stroke="#9467bd" stroke-width="0.95" opacity="0.8"/>
<line x1="448.01" y1="98.80" x2="448.01" y2="186.80" stroke="#9467bd" stroke-width="0.95" opacity="0.8"/>
<line x1="505.27" y1="79.50" x2="505.27" y2="159.50" stroke="#9467bd" stroke-width="0.95" opacity="0.8"/>
<line x1="562.53" y1="91.80" x2="562.53" y2="101.80" stroke="#9467bd" stroke-width="0.95" opacity="0.8"/>
<line x1="619.79" y1="89.50" x2="619.79" y2="95.50" stroke="#9467bd" stroke-width="0.95" opacity="0.8"/>
<circle cx="390.75" cy="167.40" r="2.3" fill="#9467bd"/>
<circle cx="448.01" cy="142.80" r="2.3" fill="#9467bd"/>
<circle cx="505.27" cy="119.50" r="2.3" fill="#9467bd"/>
<circle cx="562.53" cy="96.80" r="2.3" fill="#9467bd"/>
<circle cx="619.79" cy="92.50" r="2.3" fill="#9467bd"/>
<polyline points="390.75,111.80 448.01,104.00 505.27,96.80 562.53,88.40 619.79,83.40" fill="none" stroke="#8c564b" stroke-width="0.95" opacity="0.8"/>
<line x1="390.75" y1="108.80" x2="390.75" y2="114.80" stroke="#8c564b" stroke-width="0.95" opacity="0.8"/>
<line x1="448.01" y1="101.00" x2="448.01" y2="107.00" stroke="#8c564b" stroke-width="0.95" opacity="0.8"/>
<line x1="505.27" y1="93.80" x2="505.27" y2="99.80" stroke="#8c564b" stroke-width="0.95" opacity="0.8"/>
<line x1="562.53" y1="85.40" x2="562.53" y2="91.40" stroke="#8c564b" stroke-width="0.95" opacity="0.8"/>
<line x1="619.79" y1="80.40" x2="619.79" y2="86.40" stroke="#8c564b" stroke-width="0.95" opacity="0.8"/>
<circle cx="390.75" cy="111.80" r="2.3" fill="#8c564b"/>
<circle cx="448.01" cy="104.00" r="2.3" fill="#8c564b"/>
<circle cx="505.27" cy="96.80" r="2.3" fill="#8c564b"/>
<circle cx="562.53" cy="88.40" r="2.3" fill="#8c564b"/>
<circle cx="619.79" cy="83.40" r="2.3" fill="#8c564b"/>
<polyline points="390.75,132.00 448.01,121.60 505.27,102.00 562.53,93.00 619.79,80.00" fill="none" stroke="#e377c2" stroke-width="0.95" opacity="0.8"/>
<line x1="390.75" y1="129.00" x2="390.75" y2="135.00" stroke="#e377c2" stroke-width="0.95" opacity="0.8"/>
<line x1="448.01" y1="118.60" x2="448.01" y2="124.60" stroke="#e377c2" stroke-width="0.95" opacity="0.8"/>
<line x1="505.27" y1="99.00" x2="505.27" y2="105.00" stroke="#e377c2" stroke-width="0.95" opacity="0.8"/>
<line x1="562.53" y1="90.00" x2="562.53" y2="96.00" stroke="#e377c2" stroke-width="0.95" opacity="0.8"/>
<line x1="619.79" y1="77.00" x2="619.79" y2="83.00" stroke="#e377c2" stroke-width="0.95" opacity="0.8"/>
<circle cx="390.75" cy="132.00" r="2.3" fill="#e377c2"/>
<circle cx="448.01" cy="121.60" r="2.3" fill="#e377c2"/>
<circle cx="505.27" cy="102.00" r="2.3" fill="#e377c2"/>
<circle cx="562.53" cy="93.00" r="2.3" fill="#e377c2"/>
<circle cx="619.79" cy="80.00" r="2.3" fill="#e377c2"/>
<polyline points="390.75,131.60 448.01,110.20 505.27,100.20 562.53,93.00 619.79,78.70" fill="none" stroke="#bcbd22" stroke-width="0.95" opacity="0.8"/>
<line x1="390.75" y1="128.60" x2="390.75" y2="134.60" stroke="#bcbd22" stroke-width="0.95" opacity="0.8"/>
<line x1="448.01" y1="107.20" x2="448.01" y2="113.20" stroke="#bcbd22" stroke-width="0.95" opacity="0.8"/>
<line x1="505.27" y1="97.20" x2="505.27" y2="103.20" stroke="#bcbd22" stroke-width="0.95" opacity="0.8"/>
<line x1="562.53" y1="90.00" x2="562.53" y2="96.00" stroke="#bcbd22" stroke-width="0.95" opacity="0.8"/>
<line x1="619.79" y1="75.70" x2="619.79" y2="81.70" stroke="#bcbd22" stroke-width="0.95" opacity="0.8"/>
<circle cx="390.75" cy="131.60" r="2.3" fill="#bcbd22"/>
<circle cx="448.01" cy="110.20" r="2.3" fill="#bcbd22"/>
<circle cx="505.27" cy="100.20" r="2.3" fill="#bcbd22"/>
<circle cx="562.53" cy="93.00" r="2.3" fill="#bcbd22"/>
<circle cx="619.79" cy="78.70" r="2.3" fill="#bcbd22"/>
<polyline points="390.75,97.50 448.01,90.90 505.27,84.30 562.53,77.00 619.79,71.70" fill="none" stroke="#17becf" stroke-width="0.95" opacity="0.8"/>
<line x1="390.75" y1="91.00" x2="390.75" y2="104.00" stroke="#17becf" stroke-width="0.95" opacity="0.8"/>
<line x1="448.01" y1="81.40" x2="448.01" y2="100.40" stroke="#17becf" stroke-width="0.95" opacity="0.8"/>
<line x1="505.27" y1="74.30" x2="505.27" y2="94.30" stroke="#17becf" stroke-width="0.95" opacity="0.8"/>
<line x1="562.53" y1="69.00" x2="562.53" y2="85.00" stroke="#17becf" stroke-width="0.95" opacity="0.8"/>
<line x1="619.79" y1="66.70" x2="619.79" y2="76.70" stroke="#17becf" stroke-width="0.95" opacity="0.8"/>
<circle cx="390.75" cy="97.50" r="2.3" fill="#17becf"/>
<circle cx="448.01" cy="90.90" r="2.3" fill="#17becf"/>
<circle cx="505.27" cy="84.30" r="2.3" fill="#17becf"/>
<circle cx="562.53" cy="77.00" r="2.3" fill="#17becf"/>
<circle cx="619.79" cy="71.70" r="2.3" fill="#17becf"/>
<rect x="379.4" y="56.6" width="251.80000000000007" height="138.6" fill="none" stroke="#222" stroke-width="1.05"/>
<line x1="390.75" y1="195.2" x2="390.75" y2="190.2" stroke="#222" stroke-width="1"/>
<line x1="390.75" y1="56.6" x2="390.75" y2="61.6" stroke="#222" stroke-width="1"/>
<line x1="448.01" y1="195.2" x2="448.01" y2="190.2" stroke="#222" stroke-width="1"/>
<line x1="448.01" y1="56.6" x2="448.01" y2="61.6" stroke="#222" stroke-width="1"/>
<line x1="505.27" y1="195.2" x2="505.27" y2="190.2" stroke="#222" stroke-width="1"/>
<line x1="505.27" y1="56.6" x2="505.27" y2="61.6" stroke="#222" stroke-width="1"/>
<line x1="562.53" y1="195.2" x2="562.53" y2="190.2" stroke="#222" stroke-width="1"/>
<line x1="562.53" y1="56.6" x2="562.53" y2="61.6" stroke="#222" stroke-width="1"/>
<line x1="619.79" y1="195.2" x2="619.79" y2="190.2" stroke="#222" stroke-width="1"/>
<line x1="619.79" y1="56.6" x2="619.79" y2="61.6" stroke="#222" stroke-width="1"/>
<line x1="402.20" y1="195.2" x2="402.20" y2="192.2" stroke="#222" stroke-width="0.9"/>
<line x1="402.20" y1="56.6" x2="402.20" y2="59.6" stroke="#222" stroke-width="0.9"/>
<line x1="413.65" y1="195.2" x2="413.65" y2="192.2" stroke="#222" stroke-width="0.9"/>
<line x1="413.65" y1="56.6" x2="413.65" y2="59.6" stroke="#222" stroke-width="0.9"/>
<line x1="425.11" y1="195.2" x2="425.11" y2="192.2" stroke="#222" stroke-width="0.9"/>
<line x1="425.11" y1="56.6" x2="425.11" y2="59.6" stroke="#222" stroke-width="0.9"/>
<line x1="436.56" y1="195.2" x2="436.56" y2="192.2" stroke="#222" stroke-width="0.9"/>
<line x1="436.56" y1="56.6" x2="436.56" y2="59.6" stroke="#222" stroke-width="0.9"/>
<line x1="459.46" y1="195.2" x2="459.46" y2="192.2" stroke="#222" stroke-width="0.9"/>
<line x1="459.46" y1="56.6" x2="459.46" y2="59.6" stroke="#222" stroke-width="0.9"/>
<line x1="470.91" y1="195.2" x2="470.91" y2="192.2" stroke="#222" stroke-width="0.9"/>
<line x1="470.91" y1="56.6" x2="470.91" y2="59.6" stroke="#222" stroke-width="0.9"/>
<line x1="482.37" y1="195.2" x2="482.37" y2="192.2" stroke="#222" stroke-width="0.9"/>
<line x1="482.37" y1="56.6" x2="482.37" y2="59.6" stroke="#222" stroke-width="0.9"/>
<line x1="493.82" y1="195.2" x2="493.82" y2="192.2" stroke="#222" stroke-width="0.9"/>
<line x1="493.82" y1="56.6" x2="493.82" y2="59.6" stroke="#222" stroke-width="0.9"/>
<line x1="516.72" y1="195.2" x2="516.72" y2="192.2" stroke="#222" stroke-width="0.9"/>
<line x1="516.72" y1="56.6" x2="516.72" y2="59.6" stroke="#222" stroke-width="0.9"/>
<line x1="528.17" y1="195.2" x2="528.17" y2="192.2" stroke="#222" stroke-width="0.9"/>
<line x1="528.17" y1="56.6" x2="528.17" y2="59.6" stroke="#222" stroke-width="0.9"/>
<line x1="539.63" y1="195.2" x2="539.63" y2="192.2" stroke="#222" stroke-width="0.9"/>
<line x1="539.63" y1="56.6" x2="539.63" y2="59.6" stroke="#222" stroke-width="0.9"/>
<line x1="551.08" y1="195.2" x2="551.08" y2="192.2" stroke="#222" stroke-width="0.9"/>
<line x1="551.08" y1="56.6" x2="551.08" y2="59.6" stroke="#222" stroke-width="0.9"/>
<line x1="573.98" y1="195.2" x2="573.98" y2="192.2" stroke="#222" stroke-width="0.9"/>
<line x1="573.98" y1="56.6" x2="573.98" y2="59.6" stroke="#222" stroke-width="0.9"/>
<line x1="585.43" y1="195.2" x2="585.43" y2="192.2" stroke="#222" stroke-width="0.9"/>
<line x1="585.43" y1="56.6" x2="585.43" y2="59.6" stroke="#222" stroke-width="0.9"/>
<line x1="596.89" y1="195.2" x2="596.89" y2="192.2" stroke="#222" stroke-width="0.9"/>
<line x1="596.89" y1="56.6" x2="596.89" y2="59.6" stroke="#222" stroke-width="0.9"/>
<line x1="608.34" y1="195.2" x2="608.34" y2="192.2" stroke="#222" stroke-width="0.9"/>
<line x1="608.34" y1="56.6" x2="608.34" y2="59.6" stroke="#222" stroke-width="0.9"/>
<line x1="379.4" y1="192.00" x2="384.4" y2="192.00" stroke="#222" stroke-width="1"/>
<line x1="631.2" y1="192.00" x2="626.2" y2="192.00" stroke="#222" stroke-width="1"/>
<line x1="379.4" y1="152.37" x2="384.4" y2="152.37" stroke="#222" stroke-width="1"/>
<line x1="631.2" y1="152.37" x2="626.2" y2="152.37" stroke="#222" stroke-width="1"/>
<line x1="379.4" y1="112.73" x2="384.4" y2="112.73" stroke="#222" stroke-width="1"/>
<line x1="631.2" y1="112.73" x2="626.2" y2="112.73" stroke="#222" stroke-width="1"/>
<line x1="379.4" y1="73.10" x2="384.4" y2="73.10" stroke="#222" stroke-width="1"/>
<line x1="631.2" y1="73.10" x2="626.2" y2="73.10" stroke="#222" stroke-width="1"/>
<line x1="379.4" y1="184.08" x2="382.4" y2="184.08" stroke="#222" stroke-width="0.9"/>
<line x1="631.2" y1="184.08" x2="628.2" y2="184.08" stroke="#222" stroke-width="0.9"/>
<line x1="379.4" y1="176.15" x2="382.4" y2="176.15" stroke="#222" stroke-width="0.9"/>
<line x1="631.2" y1="176.15" x2="628.2" y2="176.15" stroke="#222" stroke-width="0.9"/>
<line x1="379.4" y1="168.22" x2="382.4" y2="168.22" stroke="#222" stroke-width="0.9"/>
<line x1="631.2" y1="168.22" x2="628.2" y2="168.22" stroke="#222" stroke-width="0.9"/>
<line x1="379.4" y1="160.30" x2="382.4" y2="160.30" stroke="#222" stroke-width="0.9"/>
<line x1="631.2" y1="160.30" x2="628.2" y2="160.30" stroke="#222" stroke-width="0.9"/>
<line x1="379.4" y1="144.44" x2="382.4" y2="144.44" stroke="#222" stroke-width="0.9"/>
<line x1="631.2" y1="144.44" x2="628.2" y2="144.44" stroke="#222" stroke-width="0.9"/>
<line x1="379.4" y1="136.52" x2="382.4" y2="136.52" stroke="#222" stroke-width="0.9"/>
<line x1="631.2" y1="136.52" x2="628.2" y2="136.52" stroke="#222" stroke-width="0.9"/>
<line x1="379.4" y1="128.59" x2="382.4" y2="128.59" stroke="#222" stroke-width="0.9"/>
<line x1="631.2" y1="128.59" x2="628.2" y2="128.59" stroke="#222" stroke-width="0.9"/>
<line x1="379.4" y1="120.66" x2="382.4" y2="120.66" stroke="#222" stroke-width="0.9"/>
<line x1="631.2" y1="120.66" x2="628.2" y2="120.66" stroke="#222" stroke-width="0.9"/>
<line x1="379.4" y1="104.81" x2="382.4" y2="104.81" stroke="#222" stroke-width="0.9"/>
<line x1="631.2" y1="104.81" x2="628.2" y2="104.81" stroke="#222" stroke-width="0.9"/>
<line x1="379.4" y1="96.88" x2="382.4" y2="96.88" stroke="#222" stroke-width="0.9"/>
<line x1="631.2" y1="96.88" x2="628.2" y2="96.88" stroke="#222" stroke-width="0.9"/>
<line x1="379.4" y1="88.95" x2="382.4" y2="88.95" stroke="#222" stroke-width="0.9"/>
<line x1="631.2" y1="88.95" x2="628.2" y2="88.95" stroke="#222" stroke-width="0.9"/>
<line x1="379.4" y1="81.03" x2="382.4" y2="81.03" stroke="#222" stroke-width="0.9"/>
<line x1="631.2" y1="81.03" x2="628.2" y2="81.03" stroke="#222" stroke-width="0.9"/>
<line x1="379.4" y1="65.17" x2="382.4" y2="65.17" stroke="#222" stroke-width="0.9"/>
<line x1="631.2" y1="65.17" x2="628.2" y2="65.17" stroke="#222" stroke-width="0.9"/>
<text x="372.80" y="197.60" font-size="14.34" text-anchor="end" fill="#333" stroke="#333" stroke-width="0.08" textLength="23.83" lengthAdjust="spacingAndGlyphs" >0.80</text>
<text x="372.80" y="157.97" font-size="14.34" text-anchor="end" fill="#333" stroke="#333" stroke-width="0.08" textLength="23.83" lengthAdjust="spacingAndGlyphs" >0.85</text>
<text x="372.80" y="118.33" font-size="14.34" text-anchor="end" fill="#333" stroke="#333" stroke-width="0.08" textLength="23.83" lengthAdjust="spacingAndGlyphs" >0.90</text>
<text x="372.80" y="78.70" font-size="14.34" text-anchor="end" fill="#333" stroke="#333" stroke-width="0.08" textLength="23.83" lengthAdjust="spacingAndGlyphs" >0.95</text>
<text x="390.75" y="211.20" font-size="14.34" text-anchor="middle" fill="#333" stroke="#333" stroke-width="0.08" textLength="24.56" lengthAdjust="spacingAndGlyphs" >20%</text>
<text x="448.01" y="211.20" font-size="14.34" text-anchor="middle" fill="#333" stroke="#333" stroke-width="0.08" textLength="24.56" lengthAdjust="spacingAndGlyphs" >40%</text>
<text x="505.27" y="211.20" font-size="14.34" text-anchor="middle" fill="#333" stroke="#333" stroke-width="0.08" textLength="24.56" lengthAdjust="spacingAndGlyphs" >60%</text>
<text x="562.53" y="211.20" font-size="14.34" text-anchor="middle" fill="#333" stroke="#333" stroke-width="0.08" textLength="24.56" lengthAdjust="spacingAndGlyphs" >80%</text>
<text x="619.79" y="211.20" font-size="14.34" text-anchor="middle" fill="#333" stroke="#333" stroke-width="0.08" textLength="31.26" lengthAdjust="spacingAndGlyphs" >100%</text>
<text x="505.20" y="229.10" font-size="13.95" text-anchor="middle" fill="#333" stroke="#333" stroke-width="0.08" textLength="135.00" lengthAdjust="spacingAndGlyphs" >Training dataset ratio</text>
<g transform="translate(338.5,125.5) rotate(-90)">
<text x="0.00" y="0.00" font-size="13.95" text-anchor="middle" fill="#333" stroke="#333" stroke-width="0.08" textLength="68.00" lengthAdjust="spacingAndGlyphs" >ROC/AUC</text>
</g>
<polyline points="708.00,92.00 766.15,88.00 824.30,84.80 882.45,82.00 940.60,79.70" fill="none" stroke="#7f7f7f" stroke-width="0.95" opacity="0.8"/>
<circle cx="708.00" cy="92.00" r="2.3" fill="#7f7f7f"/>
<circle cx="766.15" cy="88.00" r="2.3" fill="#7f7f7f"/>
<circle cx="824.30" cy="84.80" r="2.3" fill="#7f7f7f"/>
<circle cx="882.45" cy="82.00" r="2.3" fill="#7f7f7f"/>
<circle cx="940.60" cy="79.70" r="2.3" fill="#7f7f7f"/>
<polyline points="708.00,143.50 766.15,140.50 824.30,137.50 882.45,134.50 940.60,131.60" fill="none" stroke="#1f77b4" stroke-width="0.95" opacity="0.8"/>
<circle cx="708.00" cy="143.50" r="2.3" fill="#1f77b4"/>
<circle cx="766.15" cy="140.50" r="2.3" fill="#1f77b4"/>
<circle cx="824.30" cy="137.50" r="2.3" fill="#1f77b4"/>
<circle cx="882.45" cy="134.50" r="2.3" fill="#1f77b4"/>
<circle cx="940.60" cy="131.60" r="2.3" fill="#1f77b4"/>
<polyline points="708.00,153.40 766.15,149.70 824.30,147.30 882.45,144.50 940.60,141.80" fill="none" stroke="#ff7f0e" stroke-width="0.95" opacity="0.8"/>
<circle cx="708.00" cy="153.40" r="2.3" fill="#ff7f0e"/>
<circle cx="766.15" cy="149.70" r="2.3" fill="#ff7f0e"/>
<circle cx="824.30" cy="147.30" r="2.3" fill="#ff7f0e"/>
<circle cx="882.45" cy="144.50" r="2.3" fill="#ff7f0e"/>
<circle cx="940.60" cy="141.80" r="2.3" fill="#ff7f0e"/>
<polyline points="708.00,146.00 766.15,143.00 824.30,140.00 882.45,137.50 940.60,134.90" fill="none" stroke="#2ca02c" stroke-width="0.95" opacity="0.8"/>
<circle cx="708.00" cy="146.00" r="2.3" fill="#2ca02c"/>
<circle cx="766.15" cy="143.00" r="2.3" fill="#2ca02c"/>
<circle cx="824.30" cy="140.00" r="2.3" fill="#2ca02c"/>
<circle cx="882.45" cy="137.50" r="2.3" fill="#2ca02c"/>
<circle cx="940.60" cy="134.90" r="2.3" fill="#2ca02c"/>
<polyline points="708.00,121.60 766.15,117.80 824.30,114.70 882.45,112.30 940.60,109.80" fill="none" stroke="#d62728" stroke-width="0.95" opacity="0.8"/>
<circle cx="708.00" cy="121.60" r="2.3" fill="#d62728"/>
<circle cx="766.15" cy="117.80" r="2.3" fill="#d62728"/>
<circle cx="824.30" cy="114.70" r="2.3" fill="#d62728"/>
<circle cx="882.45" cy="112.30" r="2.3" fill="#d62728"/>
<circle cx="940.60" cy="109.80" r="2.3" fill="#d62728"/>
<polyline points="708.00,141.50 766.15,138.50 824.30,135.30 882.45,133.00 940.60,129.90" fill="none" stroke="#9467bd" stroke-width="0.95" opacity="0.8"/>
<circle cx="708.00" cy="141.50" r="2.3" fill="#9467bd"/>
<circle cx="766.15" cy="138.50" r="2.3" fill="#9467bd"/>
<circle cx="824.30" cy="135.30" r="2.3" fill="#9467bd"/>
<circle cx="882.45" cy="133.00" r="2.3" fill="#9467bd"/>
<circle cx="940.60" cy="129.90" r="2.3" fill="#9467bd"/>
<polyline points="708.00,146.70 766.15,143.50 824.30,140.50 882.45,137.70 940.60,136.00" fill="none" stroke="#8c564b" stroke-width="0.95" opacity="0.8"/>
<circle cx="708.00" cy="146.70" r="2.3" fill="#8c564b"/>
<circle cx="766.15" cy="143.50" r="2.3" fill="#8c564b"/>
<circle cx="824.30" cy="140.50" r="2.3" fill="#8c564b"/>
<circle cx="882.45" cy="137.70" r="2.3" fill="#8c564b"/>
<circle cx="940.60" cy="136.00" r="2.3" fill="#8c564b"/>
<polyline points="708.00,75.60 766.15,71.70 824.30,68.10 882.45,65.30 940.60,62.90" fill="none" stroke="#e377c2" stroke-width="0.95" opacity="0.8"/>
<circle cx="708.00" cy="75.60" r="2.3" fill="#e377c2"/>
<circle cx="766.15" cy="71.70" r="2.3" fill="#e377c2"/>
<circle cx="824.30" cy="68.10" r="2.3" fill="#e377c2"/>
<circle cx="882.45" cy="65.30" r="2.3" fill="#e377c2"/>
<circle cx="940.60" cy="62.90" r="2.3" fill="#e377c2"/>
<polyline points="708.00,104.30 766.15,100.70 824.30,97.20 882.45,94.80 940.60,92.50" fill="none" stroke="#bcbd22" stroke-width="0.95" opacity="0.8"/>
<circle cx="708.00" cy="104.30" r="2.3" fill="#bcbd22"/>
<circle cx="766.15" cy="100.70" r="2.3" fill="#bcbd22"/>
<circle cx="824.30" cy="97.20" r="2.3" fill="#bcbd22"/>
<circle cx="882.45" cy="94.80" r="2.3" fill="#bcbd22"/>
<circle cx="940.60" cy="92.50" r="2.3" fill="#bcbd22"/>
<polyline points="708.00,184.30 766.15,180.00 824.30,177.40 882.45,175.30 940.60,173.20" fill="none" stroke="#17becf" stroke-width="0.95" opacity="0.8"/>
<circle cx="708.00" cy="184.30" r="2.3" fill="#17becf"/>
<circle cx="766.15" cy="180.00" r="2.3" fill="#17becf"/>
<circle cx="824.30" cy="177.40" r="2.3" fill="#17becf"/>
<circle cx="882.45" cy="175.30" r="2.3" fill="#17becf"/>
<circle cx="940.60" cy="173.20" r="2.3" fill="#17becf"/>
<rect x="696.7" y="53.8" width="255.69999999999993" height="141.2" fill="none" stroke="#222" stroke-width="1.05"/>
<line x1="708.00" y1="195.0" x2="708.00" y2="190.0" stroke="#222" stroke-width="1"/>
<line x1="708.00" y1="53.8" x2="708.00" y2="58.8" stroke="#222" stroke-width="1"/>
<line x1="766.15" y1="195.0" x2="766.15" y2="190.0" stroke="#222" stroke-width="1"/>
<line x1="766.15" y1="53.8" x2="766.15" y2="58.8" stroke="#222" stroke-width="1"/>
<line x1="824.30" y1="195.0" x2="824.30" y2="190.0" stroke="#222" stroke-width="1"/>
<line x1="824.30" y1="53.8" x2="824.30" y2="58.8" stroke="#222" stroke-width="1"/>
<line x1="882.45" y1="195.0" x2="882.45" y2="190.0" stroke="#222" stroke-width="1"/>
<line x1="882.45" y1="53.8" x2="882.45" y2="58.8" stroke="#222" stroke-width="1"/>
<line x1="940.60" y1="195.0" x2="940.60" y2="190.0" stroke="#222" stroke-width="1"/>
<line x1="940.60" y1="53.8" x2="940.60" y2="58.8" stroke="#222" stroke-width="1"/>
<line x1="719.63" y1="195.0" x2="719.63" y2="192.0" stroke="#222" stroke-width="0.9"/>
<line x1="719.63" y1="53.8" x2="719.63" y2="56.8" stroke="#222" stroke-width="0.9"/>
<line x1="731.26" y1="195.0" x2="731.26" y2="192.0" stroke="#222" stroke-width="0.9"/>
<line x1="731.26" y1="53.8" x2="731.26" y2="56.8" stroke="#222" stroke-width="0.9"/>
<line x1="742.89" y1="195.0" x2="742.89" y2="192.0" stroke="#222" stroke-width="0.9"/>
<line x1="742.89" y1="53.8" x2="742.89" y2="56.8" stroke="#222" stroke-width="0.9"/>
<line x1="754.52" y1="195.0" x2="754.52" y2="192.0" stroke="#222" stroke-width="0.9"/>
<line x1="754.52" y1="53.8" x2="754.52" y2="56.8" stroke="#222" stroke-width="0.9"/>
<line x1="777.78" y1="195.0" x2="777.78" y2="192.0" stroke="#222" stroke-width="0.9"/>
<line x1="777.78" y1="53.8" x2="777.78" y2="56.8" stroke="#222" stroke-width="0.9"/>
<line x1="789.41" y1="195.0" x2="789.41" y2="192.0" stroke="#222" stroke-width="0.9"/>
<line x1="789.41" y1="53.8" x2="789.41" y2="56.8" stroke="#222" stroke-width="0.9"/>
<line x1="801.04" y1="195.0" x2="801.04" y2="192.0" stroke="#222" stroke-width="0.9"/>
<line x1="801.04" y1="53.8" x2="801.04" y2="56.8" stroke="#222" stroke-width="0.9"/>
<line x1="812.67" y1="195.0" x2="812.67" y2="192.0" stroke="#222" stroke-width="0.9"/>
<line x1="812.67" y1="53.8" x2="812.67" y2="56.8" stroke="#222" stroke-width="0.9"/>
<line x1="835.93" y1="195.0" x2="835.93" y2="192.0" stroke="#222" stroke-width="0.9"/>
<line x1="835.93" y1="53.8" x2="835.93" y2="56.8" stroke="#222" stroke-width="0.9"/>
<line x1="847.56" y1="195.0" x2="847.56" y2="192.0" stroke="#222" stroke-width="0.9"/>
<line x1="847.56" y1="53.8" x2="847.56" y2="56.8" stroke="#222" stroke-width="0.9"/>
<line x1="859.19" y1="195.0" x2="859.19" y2="192.0" stroke="#222" stroke-width="0.9"/>
<line x1="859.19" y1="53.8" x2="859.19" y2="56.8" stroke="#222" stroke-width="0.9"/>
<line x1="870.82" y1="195.0" x2="870.82" y2="192.0" stroke="#222" stroke-width="0.9"/>
<line x1="870.82" y1="53.8" x2="870.82" y2="56.8" stroke="#222" stroke-width="0.9"/>
<line x1="894.08" y1="195.0" x2="894.08" y2="192.0" stroke="#222" stroke-width="0.9"/>
<line x1="894.08" y1="53.8" x2="894.08" y2="56.8" stroke="#222" stroke-width="0.9"/>
<line x1="905.71" y1="195.0" x2="905.71" y2="192.0" stroke="#222" stroke-width="0.9"/>
<line x1="905.71" y1="53.8" x2="905.71" y2="56.8" stroke="#222" stroke-width="0.9"/>
<line x1="917.34" y1="195.0" x2="917.34" y2="192.0" stroke="#222" stroke-width="0.9"/>
<line x1="917.34" y1="53.8" x2="917.34" y2="56.8" stroke="#222" stroke-width="0.9"/>
<line x1="928.97" y1="195.0" x2="928.97" y2="192.0" stroke="#222" stroke-width="0.9"/>
<line x1="928.97" y1="53.8" x2="928.97" y2="56.8" stroke="#222" stroke-width="0.9"/>
<line x1="696.7" y1="155.70" x2="701.7" y2="155.70" stroke="#222" stroke-width="1"/>
<line x1="952.4" y1="155.70" x2="947.4" y2="155.70" stroke="#222" stroke-width="1"/>
<line x1="696.7" y1="101.40" x2="701.7" y2="101.40" stroke="#222" stroke-width="1"/>
<line x1="952.4" y1="101.40" x2="947.4" y2="101.40" stroke="#222" stroke-width="1"/>
<line x1="696.7" y1="193.65" x2="699.7" y2="193.65" stroke="#222" stroke-width="0.9"/>
<line x1="952.4" y1="193.65" x2="949.4" y2="193.65" stroke="#222" stroke-width="0.9"/>
<line x1="696.7" y1="184.09" x2="699.7" y2="184.09" stroke="#222" stroke-width="0.9"/>
<line x1="952.4" y1="184.09" x2="949.4" y2="184.09" stroke="#222" stroke-width="0.9"/>
<line x1="696.7" y1="177.31" x2="699.7" y2="177.31" stroke="#222" stroke-width="0.9"/>
<line x1="952.4" y1="177.31" x2="949.4" y2="177.31" stroke="#222" stroke-width="0.9"/>
<line x1="696.7" y1="172.05" x2="699.7" y2="172.05" stroke="#222" stroke-width="0.9"/>
<line x1="952.4" y1="172.05" x2="949.4" y2="172.05" stroke="#222" stroke-width="0.9"/>
<line x1="696.7" y1="167.75" x2="699.7" y2="167.75" stroke="#222" stroke-width="0.9"/>
<line x1="952.4" y1="167.75" x2="949.4" y2="167.75" stroke="#222" stroke-width="0.9"/>
<line x1="696.7" y1="164.11" x2="699.7" y2="164.11" stroke="#222" stroke-width="0.9"/>
<line x1="952.4" y1="164.11" x2="949.4" y2="164.11" stroke="#222" stroke-width="0.9"/>
<line x1="696.7" y1="160.96" x2="699.7" y2="160.96" stroke="#222" stroke-width="0.9"/>
<line x1="952.4" y1="160.96" x2="949.4" y2="160.96" stroke="#222" stroke-width="0.9"/>
<line x1="696.7" y1="158.18" x2="699.7" y2="158.18" stroke="#222" stroke-width="0.9"/>
<line x1="952.4" y1="158.18" x2="949.4" y2="158.18" stroke="#222" stroke-width="0.9"/>
<line x1="696.7" y1="139.35" x2="699.7" y2="139.35" stroke="#222" stroke-width="0.9"/>
<line x1="952.4" y1="139.35" x2="949.4" y2="139.35" stroke="#222" stroke-width="0.9"/>
<line x1="696.7" y1="129.79" x2="699.7" y2="129.79" stroke="#222" stroke-width="0.9"/>
<line x1="952.4" y1="129.79" x2="949.4" y2="129.79" stroke="#222" stroke-width="0.9"/>
<line x1="696.7" y1="123.01" x2="699.7" y2="123.01" stroke="#222" stroke-width="0.9"/>
<line x1="952.4" y1="123.01" x2="949.4" y2="123.01" stroke="#222" stroke-width="0.9"/>
<line x1="696.7" y1="117.75" x2="699.7" y2="117.75" stroke="#222" stroke-width="0.9"/>
<line x1="952.4" y1="117.75" x2="949.4" y2="117.75" stroke="#222" stroke-width="0.9"/>
<line x1="696.7" y1="113.45" x2="699.7" y2="113.45" stroke="#222" stroke-width="0.9"/>
<line x1="952.4" y1="113.45" x2="949.4" y2="113.45" stroke="#222" stroke-width="0.9"/>
<line x1="696.7" y1="109.81" x2="699.7" y2="109.81" stroke="#222" stroke-width="0.9"/>
<line x1="952.4" y1="109.81" x2="949.4" y2="109.81" stroke="#222" stroke-width="0.9"/>
<line x1="696.7" y1="106.66" x2="699.7" y2="106.66" stroke="#222" stroke-width="0.9"/>
<line x1="952.4" y1="106.66" x2="949.4" y2="106.66" stroke="#222" stroke-width="0.9"/>
<line x1="696.7" y1="103.88" x2="699.7" y2="103.88" stroke="#222" stroke-width="0.9"/>
<line x1="952.4" y1="103.88" x2="949.4" y2="103.88" stroke="#222" stroke-width="0.9"/>
<line x1="696.7" y1="85.05" x2="699.7" y2="85.05" stroke="#222" stroke-width="0.9"/>
<line x1="952.4" y1="85.05" x2="949.4" y2="85.05" stroke="#222" stroke-width="0.9"/>
<line x1="696.7" y1="75.49" x2="699.7" y2="75.49" stroke="#222" stroke-width="0.9"/>
<line x1="952.4" y1="75.49" x2="949.4" y2="75.49" stroke="#222" stroke-width="0.9"/>
<line x1="696.7" y1="68.71" x2="699.7" y2="68.71" stroke="#222" stroke-width="0.9"/>
<line x1="952.4" y1="68.71" x2="949.4" y2="68.71" stroke="#222" stroke-width="0.9"/>
<line x1="696.7" y1="63.45" x2="699.7" y2="63.45" stroke="#222" stroke-width="0.9"/>
<line x1="952.4" y1="63.45" x2="949.4" y2="63.45" stroke="#222" stroke-width="0.9"/>
<line x1="696.7" y1="59.15" x2="699.7" y2="59.15" stroke="#222" stroke-width="0.9"/>
<line x1="952.4" y1="59.15" x2="949.4" y2="59.15" stroke="#222" stroke-width="0.9"/>
<line x1="696.7" y1="55.51" x2="699.7" y2="55.51" stroke="#222" stroke-width="0.9"/>
<line x1="952.4" y1="55.51" x2="949.4" y2="55.51" stroke="#222" stroke-width="0.9"/>
<text x="683.30" y="160.60" font-size="13.50" text-anchor="end" fill="#333" stroke="#333" stroke-width="0.08" textLength="12.80" lengthAdjust="spacingAndGlyphs" >10</text>
<text x="683.90" y="155.40" font-size="10.20" text-anchor="start" fill="#333" stroke="#333" stroke-width="0.08" textLength="6.60" lengthAdjust="spacingAndGlyphs" >2</text>
<text x="683.30" y="106.30" font-size="13.50" text-anchor="end" fill="#333" stroke="#333" stroke-width="0.08" textLength="12.80" lengthAdjust="spacingAndGlyphs" >10</text>
<text x="683.90" y="101.10" font-size="10.20" text-anchor="start" fill="#333" stroke="#333" stroke-width="0.08" textLength="6.60" lengthAdjust="spacingAndGlyphs" >3</text>
<text x="708.00" y="211.00" font-size="14.45" text-anchor="middle" fill="#333" stroke="#333" stroke-width="0.08" textLength="24.75" lengthAdjust="spacingAndGlyphs" >20%</text>
<text x="766.15" y="211.00" font-size="14.45" text-anchor="middle" fill="#333" stroke="#333" stroke-width="0.08" textLength="24.75" lengthAdjust="spacingAndGlyphs" >40%</text>
<text x="824.30" y="211.00" font-size="14.45" text-anchor="middle" fill="#333" stroke="#333" stroke-width="0.08" textLength="24.75" lengthAdjust="spacingAndGlyphs" >60%</text>
<text x="882.45" y="211.00" font-size="14.45" text-anchor="middle" fill="#333" stroke="#333" stroke-width="0.08" textLength="24.75" lengthAdjust="spacingAndGlyphs" >80%</text>
<text x="940.60" y="211.00" font-size="14.45" text-anchor="middle" fill="#333" stroke="#333" stroke-width="0.08" textLength="31.50" lengthAdjust="spacingAndGlyphs" >100%</text>
<text x="824.50" y="229.00" font-size="14.00" text-anchor="middle" fill="#333" stroke="#333" stroke-width="0.08" textLength="135.10" lengthAdjust="spacingAndGlyphs" >Training dataset ratio</text>
<g transform="translate(659.8,124.3) rotate(-90)">
<text x="0.00" y="0.00" font-size="14.00" text-anchor="middle" fill="#333" stroke="#333" stroke-width="0.08" textLength="152.00" lengthAdjust="spacingAndGlyphs" >Training Time (seconds)</text>
</g>
<text x="126.4" y="253.3" font-size="13.2" fill="#151515" stroke="#151515" stroke-width="0.2" textLength="15.0" lengthAdjust="spacingAndGlyphs">(a)</text>
<text x="147.8" y="253.3" font-size="13.2" fill="#151515" stroke="#151515" stroke-width="0.2" textLength="47.8" lengthAdjust="spacingAndGlyphs">F1 Score</text>
<text x="424.8" y="253.3" font-size="13.2" fill="#151515" stroke="#151515" stroke-width="0.2" textLength="15.4" lengthAdjust="spacingAndGlyphs">(b)</text>
<text x="446.4" y="253.3" font-size="13.2" fill="#151515" stroke="#151515" stroke-width="0.2" textLength="93.4" lengthAdjust="spacingAndGlyphs">ROC/AUC Score</text>
<text x="752.6" y="253.2" font-size="13.2" fill="#151515" stroke="#151515" stroke-width="0.2" textLength="14.2" lengthAdjust="spacingAndGlyphs">(c)</text>
<text x="773.0" y="253.2" font-size="13.2" fill="#151515" stroke="#151515" stroke-width="0.2" textLength="81.0" lengthAdjust="spacingAndGlyphs">Training Time</text>
<path d="M790.5,213 L786,220.5 M787,218.5 L798,218.5 M785,224.3 L799.5,224.3 M792.5,214 L792.5,225.5 Q790,232 786,237 M793.8,227.5 L798.5,236 M801.8,217 L801.8,235.8 M801.8,217 L810.4,217 L810.4,236 M801.8,235.3 L810.4,235.3 M818,215.5 Q830,214.5 841,213 M819,219 L821.3,222.5 M839,218.3 L836.5,222 M830.2,215 L830.2,236 Q829.5,237.8 826,237" fill="none" stroke="#fff" stroke-width="2.8" stroke-linecap="round"/>
<path d="M815.5,223 L842,223" fill="none" stroke="#fff" stroke-width="3.6"/>
<path d="M815.5,225.2 L842,225.2" fill="none" stroke="#c8c8c8" stroke-width="0.8"/>
<text x="854.8" y="232.3" font-family="Liberation Sans, sans-serif" font-size="28" fill="#fff" stroke="#fff" stroke-width="1.5" textLength="23" lengthAdjust="spacingAndGlyphs">@</text>
<text x="881.5" y="234.6" font-family="Liberation Sans, sans-serif" font-size="28.5" fill="#fff" stroke="#fff" stroke-width="1.5" textLength="66.5" lengthAdjust="spacing">echo</text>
<path d="M790.5,213 L786,220.5 M787,218.5 L798,218.5 M785,224.3 L799.5,224.3 M792.5,214 L792.5,225.5 Q790,232 786,237 M793.8,227.5 L798.5,236 M801.8,217 L801.8,235.8 M801.8,217 L810.4,217 L810.4,236 M801.8,235.3 L810.4,235.3 M818,215.5 Q830,214.5 841,213 M819,219 L821.3,222.5 M839,218.3 L836.5,222 M830.2,215 L830.2,236 Q829.5,237.8 826,237" fill="none" stroke="#999" stroke-width="1.6" stroke-linecap="butt"/>
<text x="854.8" y="232.3" font-family="Liberation Sans, sans-serif" font-size="28" fill="#9a9a9a" stroke="#fff" stroke-width="0.5" textLength="23" lengthAdjust="spacingAndGlyphs">@</text>
<text x="881.5" y="234.6" font-family="Liberation Sans, sans-serif" font-size="28.5" fill="#9a9a9a" stroke="#fff" stroke-width="0.5" textLength="66.5" lengthAdjust="spacing">echo</text>
</g></svg></div>
</body></html>
